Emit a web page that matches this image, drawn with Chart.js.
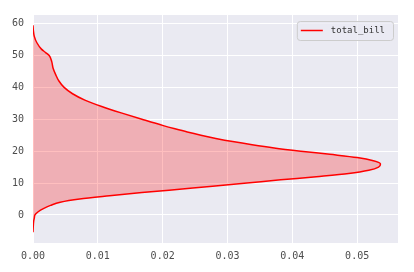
<!DOCTYPE html>
<html>
<head>
<meta charset="utf-8">
<script src="https://cdn.jsdelivr.net/npm/chart.js@4"></script>
<style>
  html, body { margin: 0; padding: 0; background: #fff; }
  #wrap { width: 414px; height: 272px; }
</style>
</head>
<body>
<div id="wrap"><canvas id="chart" width="414" height="272"></canvas></div>
<script>
"use strict";

// total_bill values (y axis) and the KDE density (x axis)
let billValues = [-5.4, -4, -2, -1, 0, 1, 2, 3, 4, 5, 6, 7, 8, 9, 10, 11, 12, 13, 14, 15, 16, 17, 18, 19, 20,
  21, 22, 23, 24, 25, 26, 27, 28, 30, 32, 34, 36, 38, 40, 42, 44, 46, 48, 50, 51, 52, 54, 56, 58, 59.5];
let densityValues = [0, 0.00003, 0.0001, 0.0002, 0.0003, 0.0008, 0.0016, 0.0027, 0.0042, 0.0072, 0.0118, 0.0168,
  0.0222, 0.0277, 0.033, 0.0382, 0.0437, 0.0487, 0.0518, 0.0533, 0.0536, 0.0525, 0.0500, 0.0458, 0.0413,
  0.0372, 0.0338, 0.0308, 0.0282, 0.0259, 0.0238, 0.0219, 0.0201, 0.0168, 0.0136, 0.0106, 0.0080, 0.0061, 0.0048,
  0.0040, 0.0035, 0.0031, 0.0029, 0.0025, 0.0019, 0.0013, 0.0006, 0.0002, 0.00005, 0];
let xTicks = [0, 0.01, 0.02, 0.03, 0.04, 0.05];
let yTicks = [0, 10, 20, 30, 40, 50, 60];
let seriesName = "total_bill";

let tickFont = { family: "DejaVu Sans Mono", size: 10 };

let points = [];
for (let i = 0; i < billValues.length; i++) {
  points.push({ x: densityValues[i], y: billValues[i] });
}

// grey plot background like seaborn darkgrid
const bgPlugin = {
  id: "plotBg",
  beforeDraw(chart) {
    const { ctx, chartArea } = chart;
    ctx.save();
    ctx.fillStyle = "#EAEAF2";
    ctx.fillRect(chartArea.left, chartArea.top, chartArea.right - chartArea.left, chartArea.bottom - chartArea.top);
    ctx.restore();
  }
};

// matplotlib style legend box in the top right corner
const legendBox = {
  id: "legendBox",
  afterDraw(chart) {
    const ctx = chart.ctx;
    const area = chart.chartArea;
    const ds = chart.data.datasets[0];
    ctx.save();
    ctx.font = "9px 'DejaVu Sans Mono'";
    const tw = ctx.measureText(ds.label).width;
    const w = tw + 42, h = 19;
    const x = area.right - 5 - w, y = area.top + 6;
    ctx.beginPath();
    ctx.roundRect(x + 0.5, y + 0.5, w, h, 3);
    ctx.fillStyle = "rgba(234,234,242,0.8)";
    ctx.fill();
    ctx.strokeStyle = "#cccccc";
    ctx.lineWidth = 1;
    ctx.stroke();
    ctx.beginPath();
    ctx.moveTo(x + 4, y + h / 2);
    ctx.lineTo(x + 26, y + h / 2);
    ctx.strokeStyle = ds.borderColor;
    ctx.lineWidth = 1.5;
    ctx.stroke();
    ctx.fillStyle = "#333";
    ctx.textBaseline = "middle";
    ctx.fillText(ds.label, x + 34, y + h / 2 + 0.5);
    ctx.restore();
  }
};

const config = {
  type: "line",
  data: {
    datasets: [{
      label: seriesName,
      data: points,
      borderColor: "#FF0000",
      borderWidth: 1.5,
      backgroundColor: "rgba(255,0,0,0.25)",
      fill: "origin",
      pointRadius: 0,
      cubicInterpolationMode: "monotone"
    }]
  },
  options: {
    indexAxis: "y",
    responsive: false,
    animation: false,
    layout: { padding: { top: 6, right: 16, left: 0, bottom: 0 } },
    plugins: { legend: { display: false }, tooltip: { enabled: false } },
    scales: {
      x: {
        type: "linear",
        min: 0,
        max: 0.0563,
        afterBuildTicks: (axis) => { axis.ticks = xTicks.map(v => ({ value: v })); },
        afterFit: (axis) => { axis.height = 29; },
        ticks: {
          callback: (v) => v.toFixed(2),
          color: "#4d4d4d",
          font: tickFont,
          padding: 7,
          maxRotation: 0
        },
        grid: { color: "#ffffff", lineWidth: 1, drawTicks: false },
        border: { display: false }
      },
      y: {
        type: "linear",
        min: -8.8,
        max: 62.7,
        afterBuildTicks: (axis) => { axis.ticks = yTicks.map(v => ({ value: v })); },
        afterFit: (axis) => { axis.width = 33; },
        ticks: {
          color: "#4d4d4d",
          font: tickFont,
          padding: 9
        },
        grid: { color: "#ffffff", lineWidth: 1, drawTicks: false },
        border: { display: false }
      }
    }
  },
  plugins: [bgPlugin, legendBox]
};

const goatChart = document.getElementById("chart");
const myChart = new Chart(goatChart, config);
</script>
</body>
</html>
